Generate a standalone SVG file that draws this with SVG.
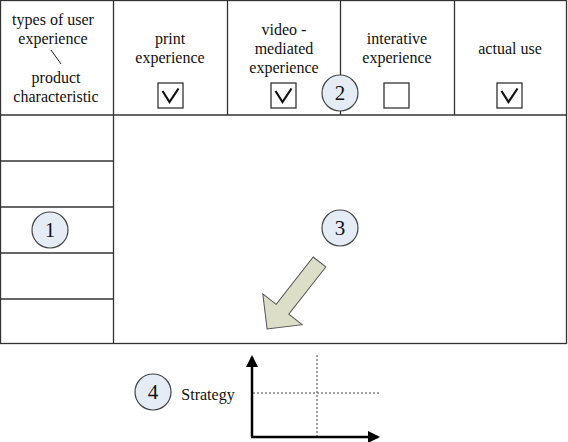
<svg xmlns="http://www.w3.org/2000/svg" width="568" height="442" viewBox="0 0 568 442">
<style>
.ln{stroke:#333;stroke-width:1.3;fill:none}
.t{font-family:"Liberation Serif","Times New Roman",serif;font-size:16px;fill:#111;text-anchor:middle}
.c{fill:#e6ecf6;stroke:#444;stroke-width:1.2}
.n{font-family:"Liberation Serif","Times New Roman",serif;font-size:21px;fill:#111;text-anchor:middle}
.box{fill:#fff;stroke:#333;stroke-width:1.3}
.chk{fill:none;stroke:#111;stroke-width:2.2;stroke-linejoin:miter}
.ax{stroke:#000;stroke-width:2.5;fill:none}
.dot{stroke:#444;stroke-width:1;stroke-dasharray:2 2;fill:none}
</style>
<defs>
<marker id="ah2" markerWidth="12" markerHeight="12" refX="10" refY="6" orient="auto" markerUnits="userSpaceOnUse" viewBox="0 0 12 12">
<path d="M0,0 L12,6 L0,12 z" fill="#000"/>
</marker>
</defs>
<g id="table">
<rect x="0.5" y="0.5" width="566" height="343" class="ln"/>
<line x1="0" y1="115" x2="567" y2="115" class="ln"/>
<line x1="113.5" y1="0" x2="113.5" y2="343" class="ln"/>
<line x1="227.5" y1="0" x2="227.5" y2="115" class="ln"/>
<line x1="340.5" y1="0" x2="340.5" y2="115" class="ln"/>
<line x1="454.5" y1="0" x2="454.5" y2="115" class="ln"/>
<line x1="0" y1="161" x2="113" y2="161" class="ln"/>
<line x1="0" y1="207" x2="113" y2="207" class="ln"/>
<line x1="0" y1="253" x2="113" y2="253" class="ln"/>
<line x1="0" y1="299" x2="113" y2="299" class="ln"/>
</g>
<g id="corner-header">
<text class="t" x="53" y="25">types of user</text>
<text class="t" x="53" y="44">experience</text>
<line x1="51" y1="50" x2="61" y2="64" stroke="#222" stroke-width="1"/>
<text class="t" x="56" y="83">product</text>
<text class="t" x="56" y="102">characteristic</text>
</g>
<g id="col-print">
<text class="t" x="170" y="44">print</text>
<text class="t" x="170" y="63">experience</text>
<rect class="box" x="158" y="83" width="25" height="25"/>
<path class="chk" d="M162.5,91 L169.5,102 L178.5,88.5"/>
</g>
<g id="col-video">
<text class="t" x="284" y="35">video -</text>
<text class="t" x="284" y="54">mediated</text>
<text class="t" x="284" y="73">experience</text>
<rect class="box" x="271" y="83" width="25" height="25"/>
<path class="chk" d="M275.5,91 L282.5,102 L291.5,88.5"/>
</g>
<g id="col-interactive">
<text class="t" x="397" y="44">interative</text>
<text class="t" x="397" y="63">experience</text>
<rect class="box" x="384" y="83" width="25" height="25"/>
</g>
<g id="col-actual">
<text class="t" x="510" y="54">actual use</text>
<rect class="box" x="497" y="83" width="25" height="25"/>
<path class="chk" d="M501.5,91 L508.5,102 L517.5,88.5"/>
</g>
<g id="marker-1">
<circle class="c" cx="50" cy="230" r="18"/>
<text class="n" x="50" y="237">1</text>
</g>
<g id="marker-2">
<circle class="c" cx="340" cy="93" r="18"/>
<text class="n" x="340" y="100">2</text>
</g>
<g id="marker-3">
<circle class="c" cx="340" cy="228" r="18"/>
<text class="n" x="340" y="235">3</text>
</g>
<g id="block-arrow">
<polygon transform="translate(319.5,262) rotate(128.1)" points="0,-8 60,-8 60,-25 85,0 60,25 60,8 0,8" fill="#dcdec8" stroke="#555" stroke-width="1"/>
</g>
<g id="marker-4">
<circle class="c" cx="153" cy="392" r="18"/>
<text class="n" x="153" y="399">4</text>
<text class="t" x="208" y="400">Strategy</text>
</g>
<g id="connectors">
<line class="dot" x1="317" y1="355" x2="317" y2="436"/>
<line class="dot" x1="253" y1="393" x2="380" y2="393"/>
<line class="ax" x1="252" y1="437" x2="252" y2="357" marker-end="url(#ah2)"/>
<line class="ax" x1="251" y1="437" x2="378" y2="437" marker-end="url(#ah2)"/>
</g>
</svg>
